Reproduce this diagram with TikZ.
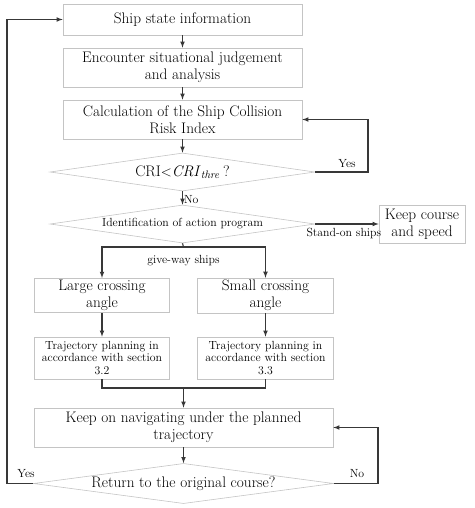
\documentclass[tikz,border=0pt]{standalone}
\usepackage{xcolor}
\usepackage{amsmath}
\usepackage{tikz}
\usetikzlibrary{calc}
\usetikzlibrary{arrows.meta}
\usetikzlibrary{shapes}
\usetikzlibrary{shapes.geometric}
\definecolor{boxgray}{HTML}{C4C4C4}
\definecolor{linegray}{HTML}{383838}
\tikzset{>=latex}
\tikzstyle{blk} = [rectangle, draw=boxgray, line width=0.6pt, inner sep=2pt, align=center, font=\fontsize{15.3}{17}\selectfont]
\tikzstyle{dec} = [diamond, draw=boxgray, line width=0.6pt, inner sep=0pt, aspect=7, align=center]
\tikzstyle{flow} = [draw=linegray, line width=1.1pt]
\tikzstyle{lbl} = [font=\fontsize{11.8}{13}\selectfont, inner sep=1pt]
\newcommand{\smalltxt}{\fontsize{11.8}{12.5}\selectfont}

\begin{document}
\begin{tikzpicture}[x=1pt, y=-1pt]
\useasboundingbox (0,0) rectangle (474,508);
% main column
\node [blk, minimum width=239pt, minimum height=31pt] (B1) at (182.5, 19.5) {Ship state information};
\node [blk, minimum width=239pt, minimum height=39pt] (B2) at (182.5, 67.5) {Encounter situational judgement\\and analysis};
\node [blk, minimum width=239pt, minimum height=39pt] (B3) at (182.5, 119.5) {Calculation of the Ship Collision\\Risk Index};
\node [dec, minimum width=265pt, minimum height=38pt, font=\fontsize{15.3}{17}\selectfont] (D1) at (182.5, 172) {CRI$<$\textit{CRI}$_{\mathit{thre}}$\,?};
\node [dec, minimum width=265pt, minimum height=38pt, font=\smalltxt] (D2) at (182.5, 224) {Identification of action program};
\node [blk, minimum width=86pt, minimum height=38pt] (KC) at (422, 224) {Keep course\\and speed};
% branches
\node [blk, minimum width=135pt, minimum height=31pt] (L1) at (102, 295.5) {Large crossing\\angle};
\node [blk, minimum width=136pt, minimum height=31pt] (S1) at (265.5, 295.5) {Small crossing\\angle};
\node [blk, minimum width=135pt, minimum height=42pt, font=\smalltxt] (L2) at (102, 358) {Trajectory planning in\\accordance with section\\3.2};
\node [blk, minimum width=136pt, minimum height=42pt, font=\smalltxt] (S2) at (265.5, 358) {Trajectory planning in\\accordance with section\\3.3};
\node [blk, minimum width=299pt, minimum height=39pt] (KN) at (183.5, 427.5) {Keep on navigating under the planned\\trajectory};
\node [dec, minimum width=300pt, minimum height=40pt, font=\fontsize{15.3}{17}\selectfont] (D3) at (183.5, 483.5) {Return to the original course?};
% turning points
\coordinate (yesR) at (368, 172);
\coordinate (split) at (183.5, 247);
\coordinate (merge) at (183.5, 388);
\coordinate (noR) at (378, 483.5);
\coordinate (yesL) at (7, 483.5);
% connectors
\draw [->, flow] (B1) -- (B2);
\draw [->, flow] (B2) -- (B3);
\draw [->, flow] (B3) -- (D1);
\draw [->, flow] (D1.east) -- (yesR) |- (B3.east);
\draw [->, flow] (D1) -- node[lbl, right, pos=0.6]{No} (D2);
\draw [->, flow] (D2.east) -- node[lbl, below=3pt, pos=0.45]{Stand-on ships} (KC);
\draw [flow] (D2.south) -- (split);
\draw [->, flow] (split) -| (L1.north);
\draw [->, flow] (split) -| (S1.north);
\draw [->, flow] (L1) -- (L2);
\draw [->, flow] (S1) -- (S2);
\draw [flow] (L2.south) |- (merge);
\draw [flow] (S2.south) |- (merge);
\draw [->, flow] (merge) -- (KN);
\draw [->, flow] (KN) -- (D3);
\draw [->, flow] (D3.east) -- (noR) |- (KN.east);
\draw [->, flow] (D3.west) -- (yesL) |- (B1.west);
% branch labels
\node [lbl] (yesT) at (347, 164) {Yes};
\node [lbl] (give) at (183.5, 261) {give-way ships};
\node [lbl] (yesB) at (26, 474) {Yes};
\node [lbl] (noB) at (357, 474) {No};
\end{tikzpicture}
\end{document}
